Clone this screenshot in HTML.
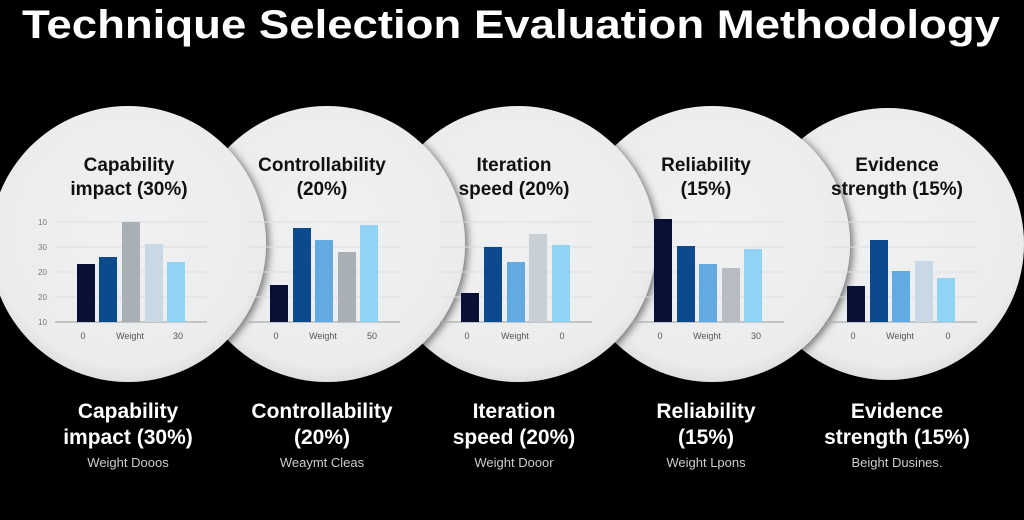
<!DOCTYPE html>
<html><head><meta charset="utf-8"><style>
html,body{margin:0;padding:0;background:#000;}
svg{display:block;font-family:"Liberation Sans",Arial,sans-serif;}
</style></head><body>
<svg width="1024" height="520" viewBox="0 0 1024 520" xmlns="http://www.w3.org/2000/svg">
<defs>
<radialGradient id="g" cx="50%" cy="45%" r="55%">
<stop offset="0" stop-color="#f0f1f2"/><stop offset="0.9" stop-color="#ebeced"/><stop offset="1" stop-color="#dedfe1"/>
</radialGradient>
<filter id="sh" x="-20%" y="-20%" width="140%" height="140%"><feDropShadow dx="3" dy="2" stdDeviation="4" flood-color="#000" flood-opacity="0.5"/></filter>
</defs>
<rect width="1024" height="520" fill="#000"/>
<text x="511" y="38" fill="#fff" font-size="40" font-weight="bold" text-anchor="middle" textLength="978" lengthAdjust="spacingAndGlyphs">Technique Selection Evaluation Methodology</text>

<circle cx="888" cy="244" r="136" fill="url(#g)" filter="url(#sh)"/>
<circle cx="712" cy="244" r="138" fill="url(#g)" filter="url(#sh)"/>
<circle cx="518" cy="244" r="138" fill="url(#g)" filter="url(#sh)"/>
<circle cx="327" cy="244" r="138" fill="url(#g)" filter="url(#sh)"/>
<circle cx="128" cy="244" r="138" fill="url(#g)" filter="url(#sh)"/>

<g font-size="19" font-weight="bold" fill="#111" text-anchor="middle">
<text x="129" y="171">Capability</text><text x="129" y="195">impact (30%)</text>
<text x="322" y="171">Controllability</text><text x="322" y="195">(20%)</text>
<text x="514" y="171">Iteration</text><text x="514" y="195">speed (20%)</text>
<text x="706" y="171">Reliability</text><text x="706" y="195">(15%)</text>
<text x="897" y="171">Evidence</text><text x="897" y="195">strength (15%)</text>
</g>

<g stroke="#dcdde0" stroke-width="1">
<line x1="55" y1="222" x2="207" y2="222"/><line x1="55" y1="247" x2="207" y2="247"/><line x1="55" y1="272" x2="207" y2="272"/><line x1="55" y1="297" x2="207" y2="297"/>
<line x1="248" y1="222" x2="400" y2="222"/><line x1="248" y1="247" x2="400" y2="247"/><line x1="248" y1="272" x2="400" y2="272"/><line x1="248" y1="297" x2="400" y2="297"/>
<line x1="440" y1="222" x2="592" y2="222"/><line x1="440" y1="247" x2="592" y2="247"/><line x1="440" y1="272" x2="592" y2="272"/><line x1="440" y1="297" x2="592" y2="297"/>
<line x1="632" y1="222" x2="784" y2="222"/><line x1="632" y1="247" x2="784" y2="247"/><line x1="632" y1="272" x2="784" y2="272"/><line x1="632" y1="297" x2="784" y2="297"/>
<line x1="825" y1="222" x2="977" y2="222"/><line x1="825" y1="247" x2="977" y2="247"/><line x1="825" y1="272" x2="977" y2="272"/><line x1="825" y1="297" x2="977" y2="297"/>
</g>
<g stroke="#a9abae" stroke-width="1.2">
<line x1="55" y1="322" x2="207" y2="322"/><line x1="248" y1="322" x2="400" y2="322"/><line x1="440" y1="322" x2="592" y2="322"/><line x1="632" y1="322" x2="784" y2="322"/><line x1="825" y1="322" x2="977" y2="322"/>
</g>
<g font-size="8" fill="#777">
<text x="38" y="225">10</text><text x="38" y="250">30</text><text x="38" y="275">20</text><text x="38" y="300">20</text><text x="38" y="325">10</text>
</g>

<rect x="77" y="264" width="18" height="58" fill="#0a0f35"/>
<rect x="99" y="257" width="18" height="65" fill="#0b4a8c"/>
<rect x="122" y="222" width="18" height="100" fill="#a9b0b5"/>
<rect x="145" y="244" width="18" height="78" fill="#c8d8e5"/>
<rect x="167" y="262" width="18" height="60" fill="#8fd3f5"/>
<rect x="270" y="285" width="18" height="37" fill="#0a0f35"/>
<rect x="293" y="228" width="18" height="94" fill="#0b4a8c"/>
<rect x="315" y="240" width="18" height="82" fill="#62abe2"/>
<rect x="338" y="252" width="18" height="70" fill="#a9b0b5"/>
<rect x="360" y="225" width="18" height="97" fill="#8fd3f5"/>
<rect x="461" y="293" width="18" height="29" fill="#0a0f35"/>
<rect x="484" y="247" width="18" height="75" fill="#0b4a8c"/>
<rect x="507" y="262" width="18" height="60" fill="#62abe2"/>
<rect x="529" y="234" width="18" height="88" fill="#c8cfd5"/>
<rect x="552" y="245" width="18" height="77" fill="#8fd3f5"/>
<rect x="654" y="219" width="18" height="103" fill="#0a0f35"/>
<rect x="677" y="246" width="18" height="76" fill="#0b4a8c"/>
<rect x="699" y="264" width="18" height="58" fill="#62abe2"/>
<rect x="722" y="268" width="18" height="54" fill="#b6bcc1"/>
<rect x="744" y="249" width="18" height="73" fill="#8fd3f5"/>
<rect x="847" y="286" width="18" height="36" fill="#0a0f35"/>
<rect x="870" y="240" width="18" height="82" fill="#0b4a8c"/>
<rect x="892" y="271" width="18" height="51" fill="#62abe2"/>
<rect x="915" y="261" width="18" height="61" fill="#c8d8e5"/>
<rect x="937" y="278" width="18" height="44" fill="#8fd3f5"/>

<g font-size="9" fill="#555" text-anchor="middle">
<text x="83" y="339">0</text><text x="130" y="339">Weight</text><text x="178" y="339">30</text>
<text x="276" y="339">0</text><text x="323" y="339">Weight</text><text x="372" y="339">50</text>
<text x="467" y="339">0</text><text x="515" y="339">Weight</text><text x="562" y="339">0</text>
<text x="660" y="339">0</text><text x="707" y="339">Weight</text><text x="756" y="339">30</text>
<text x="853" y="339">0</text><text x="900" y="339">Weight</text><text x="948" y="339">0</text>
</g>

<g font-size="21" font-weight="bold" fill="#fff" text-anchor="middle">
<text x="128" y="418">Capability</text><text x="128" y="444">impact (30%)</text>
<text x="322" y="418">Controllability</text><text x="322" y="444">(20%)</text>
<text x="514" y="418">Iteration</text><text x="514" y="444">speed (20%)</text>
<text x="706" y="418">Reliability</text><text x="706" y="444">(15%)</text>
<text x="897" y="418">Evidence</text><text x="897" y="444">strength (15%)</text>
</g>
<g font-size="13" fill="#ccc" text-anchor="middle">
<text x="128" y="467">Weight Dooos</text>
<text x="322" y="467">Weaymt Cleas</text>
<text x="514" y="467">Weight Dooor</text>
<text x="706" y="467">Weight Lpons</text>
<text x="897" y="467">Beight Dusines.</text>
</g>
</svg>
</body></html>
